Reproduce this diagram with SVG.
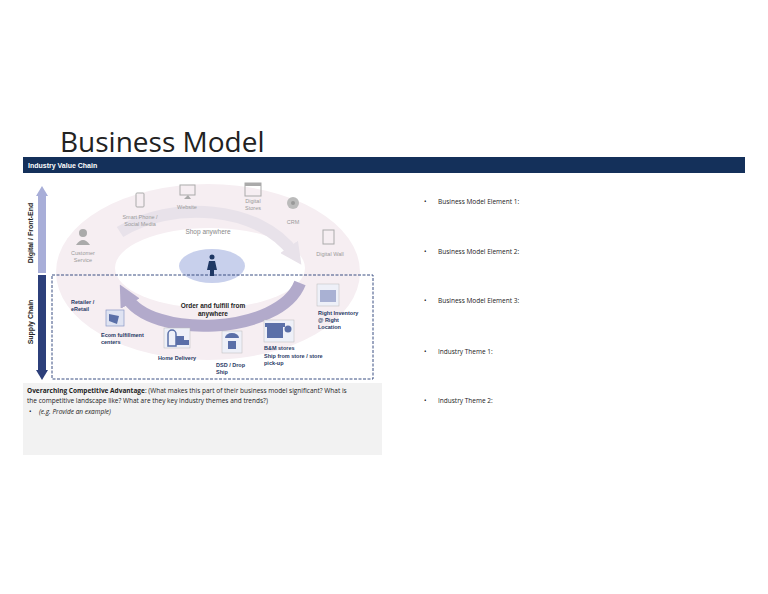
<svg xmlns="http://www.w3.org/2000/svg" width="768" height="594" viewBox="0 0 768 594">
<style>
.f{font-family:"Liberation Sans",Arial,sans-serif}
.g{font-size:5.5px;fill:#9a9a9a}
.b{font-size:5.5px;fill:#1f3864;font-weight:bold}
.r{font-family:"Open Sans","Liberation Sans",sans-serif;font-size:6.5px;fill:#222}
.ic{fill:#aaa}
.ib{fill:#5a6fa8}
</style>
<defs>
<marker id="ah" viewBox="0 0 10 10" refX="4" refY="5" markerWidth="1.8" markerHeight="1.8" orient="auto"><path d="M0,0L10,5L0,10z" fill="#e8e2ea"/></marker>
<marker id="ah2" viewBox="0 0 10 10" refX="4" refY="5" markerWidth="1.8" markerHeight="1.8" orient="auto"><path d="M0,0L10,5L0,10z" fill="#b2aacb"/></marker>
</defs>
<rect width="768" height="594" fill="#fff"/>
<text x="60" y="152" font-family="'Open Sans','Liberation Sans',sans-serif" font-size="28" fill="#222">Business Model</text>
<rect x="23" y="157" width="722" height="16" fill="#14305a"/>
<text x="28" y="168" class="f" font-size="7" font-weight="bold" fill="#fff">Industry Value Chain</text>

<g id="background">
<ellipse cx="208" cy="272" rx="152" ry="88" fill="#f6eef2"/>
<ellipse cx="210" cy="268" rx="95" ry="40" fill="#fff"/>
<ellipse cx="212" cy="266" rx="33" ry="17" fill="#c8d0ec"/>
<rect x="52" y="275" width="321" height="104" fill="none" stroke="#3b4f82" stroke-width="1" stroke-dasharray="3,1.5"/>
</g>
<g id="connectors" fill="none">
<path d="M120,232 C170,200 260,205 294,254" stroke="#e8e2ea" stroke-width="12" marker-end="url(#ah)"/>
<path d="M300,283 C280,335 150,340 126,296" stroke="#b2aacb" stroke-width="12" marker-end="url(#ah2)"/>
</g>
<g id="axis">
<rect x="38" y="195" width="8" height="78" fill="#a8aed8"/>
<path d="M42,186L48,196L36,196z" fill="#a8aed8"/>
<rect x="38" y="275" width="8" height="95" fill="#2c3f7a"/>
<path d="M42,380L48,370L36,370z" fill="#2c3f7a"/>
<text transform="translate(33,233) rotate(-90)" text-anchor="middle" class="f" font-size="7" font-weight="bold" fill="#222">Digital / Front-End</text>
<text transform="translate(33,322) rotate(-90)" text-anchor="middle" class="f" font-size="7" font-weight="bold" fill="#222">Supply Chain</text>
</g>
<g id="customer"><circle cx="83" cy="233" r="4" class="ic"/><path d="M76,245q7,-10 14,0z" class="ic"/><text x="83" y="255" text-anchor="middle" class="f g">Customer</text><text x="83" y="262" text-anchor="middle" class="f g">Service</text></g>
<g id="phone"><rect x="136" y="193" width="8" height="14" rx="1" fill="none" stroke="#aaa"/><text x="140" y="219" text-anchor="middle" class="f g">Smart Phone /</text><text x="140" y="226" text-anchor="middle" class="f g">Social Media</text></g>
<g id="website"><rect x="180" y="185" width="15" height="10" fill="none" stroke="#aaa"/><path d="M184,199h7l-3,-4z" class="ic"/><text x="187" y="209" text-anchor="middle" class="f g">Website</text></g>
<g id="stores"><rect x="245" y="183" width="16" height="13" fill="none" stroke="#aaa"/><rect x="245" y="183" width="16" height="3" class="ic"/><text x="253" y="203" text-anchor="middle" class="f g">Digital</text><text x="253" y="210" text-anchor="middle" class="f g">Stores</text></g>
<g id="crm"><circle cx="293" cy="203" r="6" fill="#bbb"/><circle cx="293" cy="203" r="2" fill="#999"/><text x="293" y="224" text-anchor="middle" class="f g">CRM</text></g>
<g id="wall"><rect x="323" y="230" width="11" height="14" fill="none" stroke="#aaa"/><text x="330" y="256" text-anchor="middle" class="f g">Digital Wall</text></g>
<text x="208" y="234" text-anchor="middle" class="f" font-size="6.5" fill="#888">Shop anywhere</text>
<g id="person"><circle cx="212" cy="257" r="2.5" fill="#1f3864"/><path d="M209,261h6l2,9h-3v6h-4v-6h-3z" fill="#1f3864"/></g>
<text x="213" y="308" text-anchor="middle" class="f" font-size="6.5" font-weight="bold" fill="#222">Order and fulfill from</text>
<text x="213" y="316" text-anchor="middle" class="f" font-size="6.5" font-weight="bold" fill="#222">anywhere</text>
<g id="retailer"><text x="71" y="304" class="f b">Retailer /</text><text x="71" y="311" class="f b">eRetail</text></g>
<g id="ecom"><rect x="106" y="310" width="18" height="16" fill="#dfe3f2" stroke="#8b97c7" stroke-width="0.7"/><path d="M109,314l10,2l-2,8l-8,-3z" class="ib"/><text x="101" y="337" class="f b">Ecom fulfillment</text><text x="101" y="344" class="f b">centers</text></g>
<g id="home"><rect x="164" y="328" width="26" height="20" fill="#eef0f8" stroke="#bbb" stroke-width="0.5"/><path d="M168,346v-12a4,4 0 0 1 8,0v12z" fill="none" stroke="#5a6fa8" stroke-width="1.5"/><rect x="176" y="336" width="8" height="9" class="ib"/><rect x="184" y="340" width="5" height="5" class="ib"/><text x="177" y="360" text-anchor="middle" class="f b">Home Delivery</text></g>
<g id="dsd"><rect x="222" y="331" width="20" height="22" fill="#eef0f8" stroke="#bbb" stroke-width="0.5"/><path d="M225,338a7,5 0 0 1 14,0z" class="ib"/><rect x="228" y="341" width="8" height="8" class="ib"/><text x="216" y="367" class="f b">DSD / Drop</text><text x="216" y="374" class="f b">Ship</text></g>
<g id="bm"><rect x="264" y="320" width="30" height="22" fill="#eef0f8" stroke="#bbb" stroke-width="0.5"/><rect x="267" y="326" width="16" height="12" class="ib"/><rect x="265" y="323" width="20" height="4" class="ib"/><circle cx="288" cy="329" r="3.5" class="ib"/><text x="264" y="350" class="f b">B&amp;M stores</text><text x="264" y="358" class="f b">Ship from store / store</text><text x="264" y="365" class="f b">pick-up</text></g>
<g id="inventory"><rect x="317" y="284" width="22" height="22" fill="#eef0f8" stroke="#bbb" stroke-width="0.5"/><rect x="320" y="290" width="16" height="12" fill="#a9b1d3"/><text x="318" y="315" class="f b">Right Inventory</text><text x="318" y="322" class="f b">@ Right</text><text x="318" y="329" class="f b">Location</text></g>

<g id="advantage">
<rect x="23" y="383" width="359" height="72" fill="#f2f2f2"/>
<text x="27" y="393" class="r"><tspan font-weight="bold">Overarching Competitive Advantage</tspan>: (What makes this part of their business model significant? What is</text>
<text x="27" y="403" class="r">the competitive landscape like? What are they key industry themes and trends?)</text>
<text x="29" y="414" class="r">•</text><text x="39" y="414" class="r" font-style="italic">(e.g. Provide an example)</text>
</g>
<g id="bullets" class="r">
<text x="424" y="204" class="r">•</text><text x="438" y="204" class="r">Business Model Element 1:</text>
<text x="424" y="254" class="r">•</text><text x="438" y="254" class="r">Business Model Element 2:</text>
<text x="424" y="303" class="r">•</text><text x="438" y="303" class="r">Business Model Element 3:</text>
<text x="424" y="354" class="r">•</text><text x="438" y="354" class="r">Industry Theme 1:</text>
<text x="424" y="403" class="r">•</text><text x="438" y="403" class="r">Industry Theme 2:</text>
</g>
</svg>
